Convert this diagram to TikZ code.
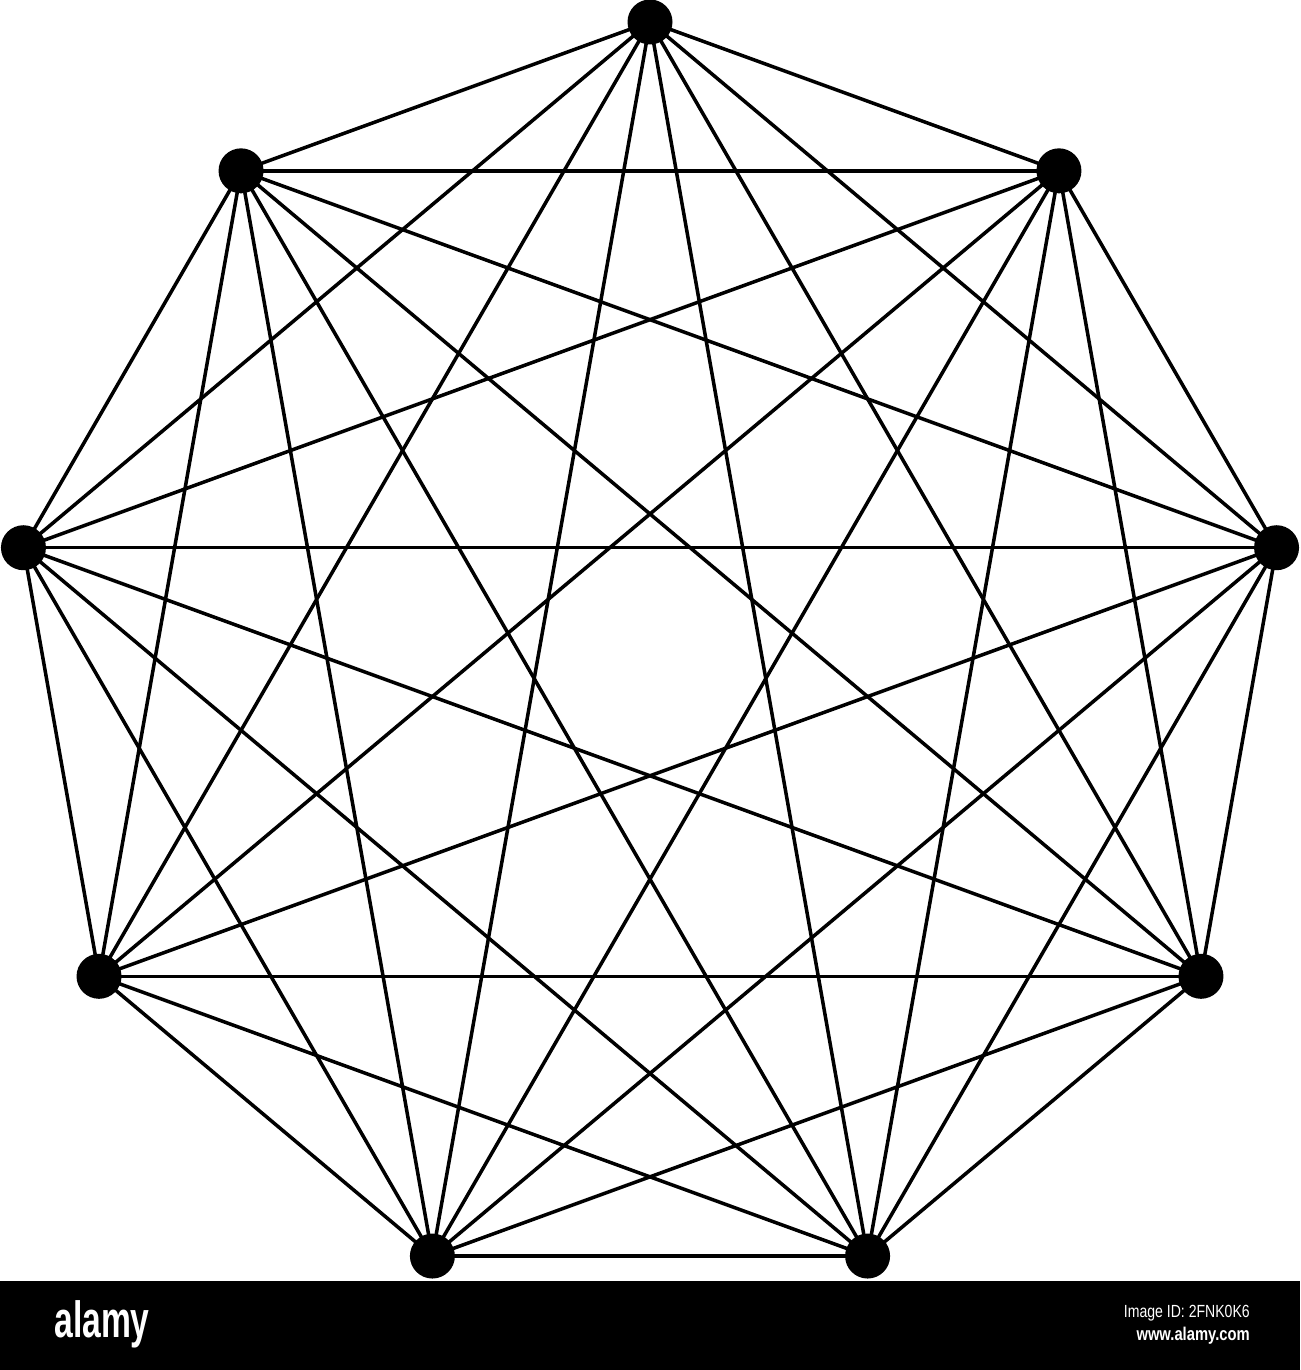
\documentclass[tikz,border=0pt]{standalone}
\usepackage{fontspec}
\setmainfont{Liberation Sans}
\usetikzlibrary{backgrounds}
\tikzset{
  vdot/.style={circle,fill=black,inner sep=0pt,minimum size=0.9cm},
  edge/.style={line width=2pt,black},
  band/.style={fill=black,draw=none},
  wm/.style={text=white,inner sep=0pt}
}
\begin{document}
\begin{tikzpicture}
\useasboundingbox (-13,-14.236) rectangle (13,13.164);
\foreach \i in {0,...,8} {
  \node[vdot] (v\i) at ({90-40*\i}:12.724) {};
}
\begin{scope}[on background layer]
\fill[white] (-13,-14.236) rectangle (13,13.164);
\foreach \i in {0,...,7} {
  \pgfmathtruncatemacro{\s}{\i+1}
  \foreach \j in {\s,...,8} {
    \draw[edge] (v\i.center) -- (v\j.center);
  }
}
\end{scope}
\fill[band] (-13,-12.456) rectangle (13,-14.236);
\node[wm,font=\bfseries\fontsize{29pt}{29pt}\selectfont,xscale=0.66] (logo) at (-10.96,-13.32) {alamy};
\node[wm,anchor=east,font=\fontsize{10pt}{10pt}\selectfont,xscale=0.8] (imgid) at (12,-13.1) {Image ID: 2FNK0K6};
\node[wm,anchor=east,font=\bfseries\fontsize{10.5pt}{10.5pt}\selectfont,xscale=0.8] (url) at (12,-13.56) {www.alamy.com};
\end{tikzpicture}
\end{document}
